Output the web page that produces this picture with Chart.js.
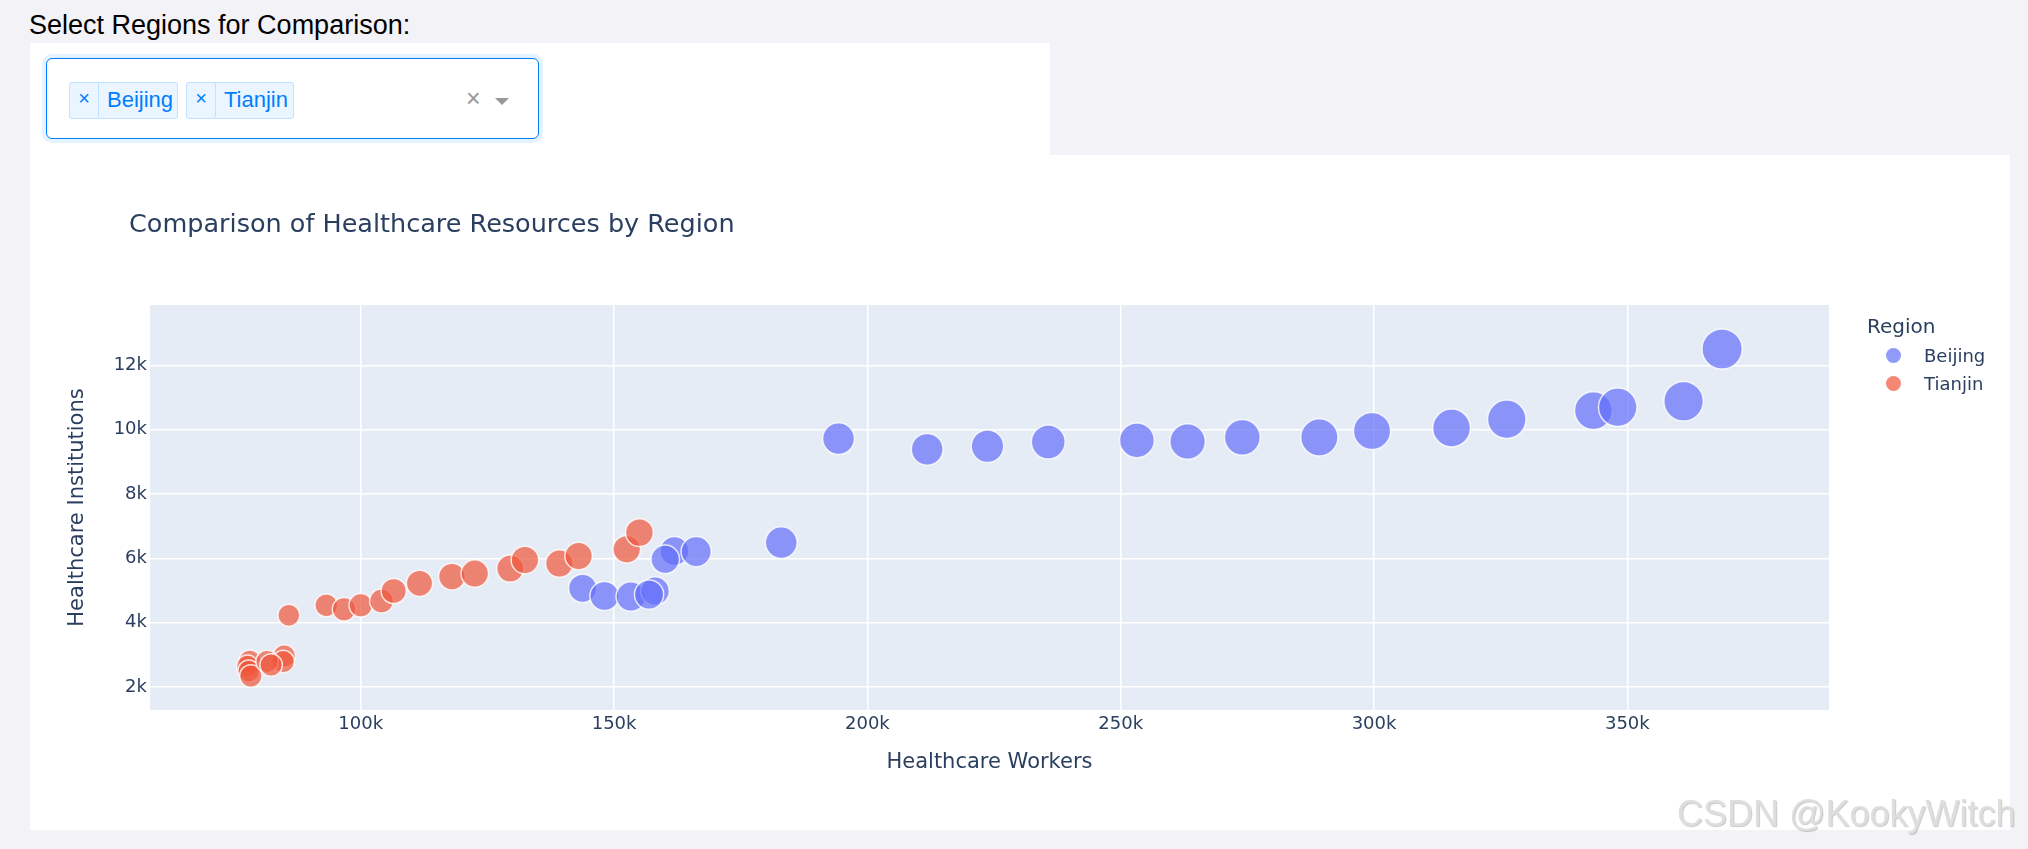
<!DOCTYPE html>
<html>
<head>
<meta charset="utf-8">
<script src="https://cdn.jsdelivr.net/npm/chart.js@4.4.1/dist/chart.umd.min.js"></script>
<style>
html, body { margin:0; padding:0; width:2028px; height:849px; overflow:hidden; background:#f2f2f7; }
body { position:relative; font-family:"Liberation Sans", Arial, sans-serif; }
#label { position:absolute; left:29px; top:12px; font-size:27px; line-height:27px; color:#000; white-space:nowrap; }
#ddpanel { position:absolute; left:30px; top:43px; width:1020px; height:112px; background:#fff; }
#dd { position:absolute; left:45.5px; top:58px; width:491px; height:79px; border:1.5px solid #007eff; border-radius:6px; box-shadow:0 0 0 4px rgba(0,126,255,0.1); background:#fff; }
.tag { position:absolute; top:82px; height:37px; box-sizing:border-box; background:#ebf5ff; border:1.5px solid #c2e0ff; border-radius:3px; color:#007eff; font-size:22px; }
.tag .ic { position:absolute; left:0; top:0; width:28px; height:34px; border-right:1.5px solid #c2e0ff; text-align:center; font-size:20px; line-height:30px; }
.tag .tx { position:absolute; top:0; line-height:34px; white-space:nowrap; }
#clear { position:absolute; left:466px; top:86px; font-size:25px; line-height:25px; color:#999; }
#arrow { position:absolute; left:495px; top:98px; width:0; height:0; border-left:7px solid transparent; border-right:7px solid transparent; border-top:7px solid #999; }
#panel { position:absolute; left:30px; top:155px; width:1980px; height:675px; background:#fff; }
#chart { position:absolute; left:0; top:0; }
#title { position:absolute; left:129px; top:210.5px; font-family:"DejaVu Sans", Verdana, sans-serif; font-size:25.5px; line-height:25.5px; color:#2a3f5f; white-space:nowrap; }
#legend { position:absolute; left:0; top:0; font-family:"DejaVu Sans", Verdana, sans-serif; color:#2a3f5f; }
#legend .lt { position:absolute; left:1867px; top:316px; font-size:20px; line-height:20px; white-space:nowrap; }
#legend .dot { position:absolute; width:15px; height:15px; border-radius:50%; }
#legend .it { position:absolute; font-size:18px; line-height:18px; white-space:nowrap; }
#wm { position:absolute; left:1677px; top:796px; font-family:"Liberation Sans", Arial, sans-serif; font-size:36px; line-height:36px; color:#dedede; text-shadow:1px 1px 1px rgba(0,0,0,0.22); white-space:nowrap; }
</style>
</head>
<body>
<div id="label">Select Regions for Comparison:</div>
<div id="ddpanel"></div>
<div id="dd"></div>
<div class="tag" style="left:69px;width:109px;"><div class="ic">×</div><div class="tx" style="left:37px;">Beijing</div></div>
<div class="tag" style="left:186px;width:108px;"><div class="ic">×</div><div class="tx" style="left:37px;">Tianjin</div></div>
<div id="clear">×</div>
<div id="arrow"></div>
<div id="panel"><canvas id="chart" width="1980" height="675"></canvas></div>
<div id="title">Comparison of Healthcare Resources by Region</div>
<div id="legend"></div>
<div id="wm">CSDN @KookyWitch</div>
<script>
// ---- data ----
const regions = ['Beijing', 'Tianjin'];

const beijingWorkers = [143800, 148100, 153300, 158100, 156900, 161900, 160100, 166200, 183000, 194300, 211800, 223700, 235700, 253200, 263200, 274000, 289200, 299600, 315300, 326200, 343300, 348100, 361100, 368700];
const beijingInstitutions = [5070, 4830, 4811, 4986, 4874, 6230, 5972, 6211, 6491, 9725, 9392, 9485, 9619, 9672, 9632, 9765, 9765, 9962, 10055, 10326, 10596, 10699, 10885, 12512];
const beijingBubble = [29.7, 30.7, 31, 30, 30.7, 30.5, 30, 31.7, 33.3, 33.3, 33.3, 34, 35.3, 36.3, 37, 37.3, 38.7, 38.7, 39.3, 40, 39.3, 40, 41, 41.7];

const tianjinWorkers = [78100, 77650, 77900, 78300, 84900, 84700, 81500, 82300, 85800, 93200, 96700, 100000, 104100, 106500, 111600, 118000, 122500, 129500, 132400, 139200, 143000, 152500, 155000];
const tianjinInstitutions = [2809, 2653, 2498, 2342, 2964, 2790, 2790, 2684, 4230, 4541, 4416, 4541, 4675, 4986, 5225, 5433, 5527, 5682, 5950, 5838, 6074, 6283, 6802];
const tianjinBubble = [23.5, 23.5, 23.5, 24, 24, 24, 24, 24, 23.5, 24.3, 25, 25, 25.3, 26.7, 27.7, 28.3, 29, 28.5, 29, 29, 29, 29, 29.3];

const xTickValues = [100000, 150000, 200000, 250000, 300000, 350000];
const yTickValues = [2000, 4000, 6000, 8000, 10000, 12000];
const xRange = [58400, 389800];
const yRange = [1285, 13880];

// ---- chart ----
const FONT = '"DejaVu Sans", Verdana, sans-serif';
const INK = '#2a3f5f';
const regionColors = { Beijing: [99, 110, 250], Tianjin: [239, 85, 59] };
const rgba = (c, a) => `rgba(${c[0]},${c[1]},${c[2]},${a})`;
const sizeToRadius = s => s / 2 - 0.75;

function makePoints(xs, ys, ss) {
  return xs.map((x, i) => ({ x: x, y: ys[i], r: sizeToRadius(ss[i]) }));
}

const plotBg = {
  id: 'plotBg',
  beforeDraw(chart) {
    const { ctx, chartArea: a } = chart;
    ctx.save();
    ctx.fillStyle = '#e5ecf6';
    ctx.fillRect(a.left, a.top, a.right - a.left, a.bottom - a.top);
    ctx.restore();
  }
};

const chart = new Chart(document.getElementById('chart'), {
  type: 'bubble',
  data: {
    datasets: [
      { label: regions[0], data: makePoints(beijingWorkers, beijingInstitutions, beijingBubble),
        backgroundColor: rgba(regionColors.Beijing, 0.7), borderColor: 'rgba(255,255,255,0.8)', borderWidth: 1.5, order: 1 },
      { label: regions[1], data: makePoints(tianjinWorkers, tianjinInstitutions, tianjinBubble),
        backgroundColor: rgba(regionColors.Tianjin, 0.7), borderColor: 'rgba(255,255,255,0.8)', borderWidth: 1.5, order: 0 }
    ]
  },
  options: {
    responsive: false,
    animation: false,
    devicePixelRatio: 1,
    layout: { padding: { left: 0, right: 181, top: 150, bottom: 0 } },
    plugins: { legend: { display: false }, tooltip: { enabled: false }, title: { display: false } },
    scales: {
      x: {
        type: 'linear', position: 'bottom', min: xRange[0], max: xRange[1],
        afterFit(s) { s.height = 120; },
        afterBuildTicks(s) { s.ticks = xTickValues.map(v => ({ value: v })); },
        grid: { color: '#ffffff', lineWidth: 1.5, drawTicks: false },
        border: { display: false },
        ticks: { padding: 4, color: INK, font: { family: FONT, size: 18 }, maxRotation: 0, autoSkip: false,
                 callback: v => (v / 1000) + 'k' },
        title: { display: true, text: 'Healthcare Workers', color: INK, font: { family: FONT, size: 21 },
                 padding: { top: 0, bottom: 55 } }
      },
      y: {
        type: 'linear', position: 'left', min: yRange[0], max: yRange[1],
        afterFit(s) { s.width = 120; },
        afterBuildTicks(s) { s.ticks = yTickValues.map(v => ({ value: v })); },
        grid: { color: '#ffffff', lineWidth: 1.5, drawTicks: false },
        border: { display: false },
        ticks: { padding: 3, color: INK, font: { family: FONT, size: 18 }, autoSkip: false,
                 callback: v => (v / 1000) + 'k' },
        title: { display: true, text: 'Healthcare Institutions', color: INK, font: { family: FONT, size: 21 },
                 padding: { top: 35.4, bottom: 0 } }
      }
    }
  },
  plugins: [plotBg]
});

// ---- legend built from the chart datasets ----
(function buildLegend() {
  const lg = document.getElementById('legend');
  const t = document.createElement('div');
  t.className = 'lt'; t.textContent = 'Region';
  lg.appendChild(t);
  chart.data.datasets.forEach((ds, i) => {
    const cy = 355 + i * 28.5;
    const d = document.createElement('div');
    d.className = 'dot';
    d.style.left = (1893 - 7.5) + 'px';
    d.style.top = (cy - 7.5) + 'px';
    d.style.background = ds.backgroundColor;
    lg.appendChild(d);
    const tx = document.createElement('div');
    tx.className = 'it';
    tx.style.left = '1924px';
    tx.style.top = (cy - 8.5) + 'px';
    tx.textContent = ds.label;
    lg.appendChild(tx);
  });
})();
</script>
</body>
</html>
